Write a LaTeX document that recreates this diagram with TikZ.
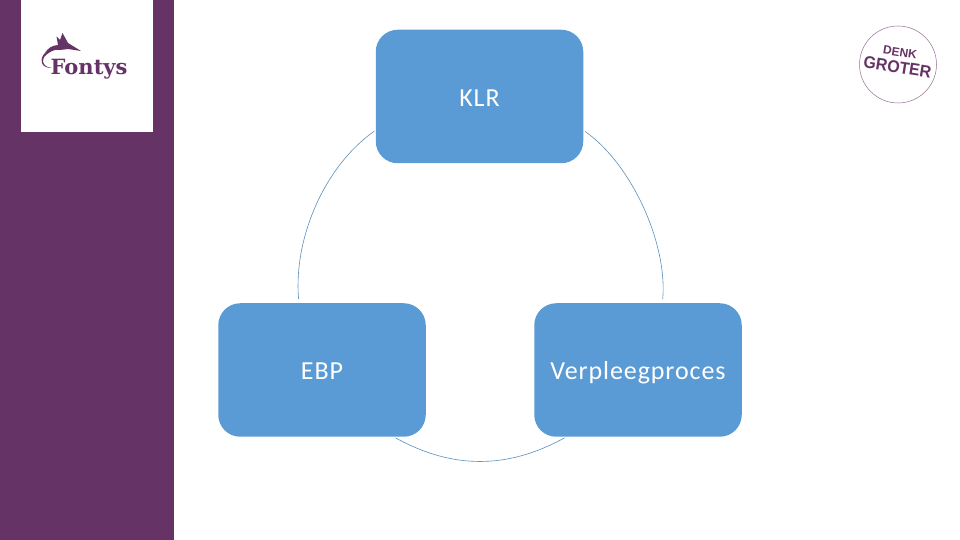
\documentclass[tikz,border=0pt]{standalone}
\usepackage{fontspec}
\setmainfont[LetterSpace=3.5]{Carlito}
\newfontfamily\logofont{DejaVu Serif}
\newfontfamily\denkfont{Liberation Sans}
\definecolor{fontyspurple}{HTML}{663366}
\definecolor{boxblue}{HTML}{5B9BD5}
\definecolor{linkblue}{HTML}{5B8FBA}
\begin{document}
\begin{tikzpicture}[x=1pt,y=1pt,node distance=273.5pt,
    main node/.style={rectangle,rounded corners=22pt,fill=boxblue,minimum width=207.5pt,minimum height=133.5pt,inner sep=0pt,text=white,text height=25.4pt,text depth=6pt,font=\fontsize{26}{30}\selectfont},
    link/.style={linkblue,line width=0.6pt}]
    \useasboundingbox (0,0) rectangle (960,540);
    % sidebar and logos
    \fill[fontyspurple] (0,0) rectangle (174,540);
    \fill[white] (21,408) rectangle (153,540);
    \fill[fontyspurple] (45,487) .. controls (48,492) and (52,494.5) .. (58,495) -- (56.5,503.5) -- (60,500) -- (62.5,507) -- (68,497) -- (81,489) -- (68,491) .. controls (62,490) and (58,490) .. (55,490) .. controls (51,489) and (47,486) .. (45,484) .. controls (43,482) and (42.5,478) .. (44,476) .. controls (46,473) and (49,472.5) .. (52,472) .. controls (47,472) and (43,473.5) .. (42,477) .. controls (41,481) and (42,484) .. (45,487) -- cycle;
    \node[inner sep=0pt,anchor=base west,fontyspurple,font=\logofont\bfseries\fontsize{21}{24}\selectfont] (fontys) at (50.5,465.7) {Fontys};
    \node[circle,draw=fontyspurple!70,line width=0.5pt,minimum size=77pt,inner sep=0pt] (badge) at (898,475.5) {};
    \node[inner sep=0pt,rotate=-9,fontyspurple,font=\denkfont\bfseries\fontsize{12}{14}\selectfont] (denk) at (900,487.5) {DENK};
    \node[inner sep=0pt,rotate=-9,xscale=0.94,fontyspurple,font=\denkfont\bfseries\fontsize{17}{20}\selectfont] (groter) at (897.5,473) {GROTER};
    % boxes
    \node[main node] (klr) at (479.5,443.5) {KLR};
    \node[main node] (ebp) [below of=klr,xshift=-157.5pt] {EBP};
    \node[main node] (verpleeg) [right of=ebp,node distance=316pt] {Verpleegproces};

    \path[link]
        (klr.198.4) edge[out=215.2,in=95,looseness=0.86,shorten <=1.5pt,shorten >=4pt] (ebp.109.7)
        (klr.-18.4) edge[out=-35.2,in=85,looseness=0.8,shorten <=2pt,shorten >=4pt] (verpleeg.70.3)
        (ebp.-43.3) edge[out=-28.8,in=208.8,looseness=1.0,shorten <=2pt,shorten >=2pt] (verpleeg.223.3)
        ;
\end{tikzpicture}
\end{document}
